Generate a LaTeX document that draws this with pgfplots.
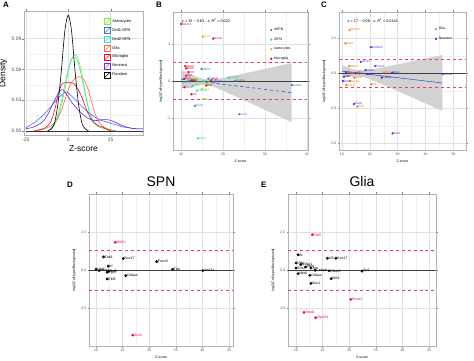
\documentclass[border=0pt]{standalone}
\usepackage{pgfplots}
\pgfplotsset{compat=1.18}
\usepackage{fontspec}
\setmainfont{Liberation Sans}
\definecolor{aAstro}{HTML}{80F030}
\definecolor{aDrdA}{HTML}{3A70E8}
\definecolor{aDrdB}{HTML}{40E0C8}
\definecolor{aGlia}{HTML}{FF6A40}
\definecolor{aMicro}{HTML}{E8102A}
\definecolor{aNeur}{HTML}{6A2BE8}
\definecolor{bD}{HTML}{3B6FD4}
\definecolor{bI}{HTML}{30D0B0}
\definecolor{bA}{HTML}{A8D020}
\definecolor{bM}{HTML}{D0103A}
\definecolor{cG}{HTML}{E8792A}
\definecolor{cN}{HTML}{4B2BD8}
\definecolor{hiRed}{HTML}{E0104A}
\definecolor{dashC}{HTML}{E8406A}
\definecolor{regC}{HTML}{2A4BD0}
\pgfplotsset{
  panel/.style={
    scale only axis, anchor=south west,
    axis line style={black!30},
    tick style={black!50, line width=0.3pt},
    tick align=outside, major tick length=1.5bp, minor tick length=0pt,
    grid=both, minor tick num=1,
    major grid style={black!12, line width=0.4pt},
    minor grid style={black!6, line width=0.3pt},
    ticklabel style={font=\fontsize{3.5}{4}\selectfont, text=black!70, inner sep=1bp},
    /pgf/number format/assume math mode=true,
    label style={font=\fontsize{3.5}{4}\selectfont},
  },
  lbl/.style={only marks, mark=*, mark size=0.9bp, color=#1,
    nodes near coords, point meta=explicit symbolic,
    nodes near coords style={anchor=west, font=\fontsize{3}{3}\selectfont, inner sep=0.7bp, text=#1}},
  lblD/.style={only marks, mark=*, mark size=1.2bp, color=#1,
    nodes near coords, point meta=explicit symbolic,
    nodes near coords style={anchor=west, font=\fontsize{3.6}{4}\selectfont, inner sep=1bp, text=#1}},
}
\begin{document}
\begin{tikzpicture}
\useasboundingbox (0,0) rectangle (474bp,361bp);
% ---------------- A ----------------
\begin{axis}[panel, at={(24bp,226bp)}, width=119bp, height=124bp,
  xmin=-26, xmax=44, ymin=-0.004, ymax=0.117,
  xtick={-25,0,25}, ytick={0,0.03,0.06,0.09},
  yticklabels={0.00,0.03,0.06,0.09},
  ticklabel style={font=\fontsize{5}{6}\selectfont},
  xlabel={Z-score}, ylabel={Density},
  label style={font=\fontsize{8.5}{9}\selectfont},
  legend style={at={(0.67,0.95)}, anchor=north west, draw=none, fill=none,
    font=\fontsize{4}{4.5}\selectfont, row sep=0.6bp, inner sep=0pt},
  legend cell align=left,
  legend image code/.code={\draw[#1, line width=0.5pt, sharp plot] (0bp,-3bp) rectangle (6bp,3bp); \draw[#1, line width=0.5pt, sharp plot] (0bp,-3bp) -- (6bp,3bp);},
  every axis plot/.append style={line width=0.6pt, smooth},
]
\addplot[aAstro] coordinates {(-12,0) (-10,0.002) (-8,0.006) (-6,0.013) (-4,0.025) (-2,0.040) (0,0.057) (2,0.070) (4,0.075) (6,0.070) (8,0.056) (10,0.038) (12,0.022) (14,0.011) (16,0.006) (18,0.004) (20,0.003) (22,0.002) (25,0.001) (28,0)};
\addlegendentry{Astrocytes}
\addplot[aDrdA] coordinates {(-25,0.003) (-20,0.008) (-15,0.015) (-10,0.024) (-6,0.032) (-3,0.036) (-1,0.038) (2,0.034) (5,0.029) (8,0.024) (12,0.018) (16,0.013) (20,0.010) (24,0.008) (28,0.006) (32,0.004) (36,0.003) (40,0.002) (44,0.002)};
\addlegendentry{Drd1-SPN}
\addplot[aDrdB] coordinates {(-12,0) (-10,0.003) (-8,0.008) (-6,0.016) (-4,0.029) (-2,0.045) (0,0.060) (2,0.070) (4,0.072) (6,0.066) (8,0.052) (10,0.036) (12,0.021) (14,0.012) (16,0.007) (18,0.004) (20,0.003) (23,0.001) (26,0)};
\addlegendentry{Drd2-SPN}
\addplot[aGlia] coordinates {(-18,0) (-14,0.002) (-10,0.005) (-8,0.008) (-6,0.013) (-4,0.020) (-2,0.030) (0,0.040) (2,0.047) (4,0.051) (6,0.053) (8,0.052) (10,0.048) (12,0.039) (14,0.027) (16,0.016) (18,0.009) (20,0.005) (22,0.003) (25,0.001) (28,0)};
\addlegendentry{Glia}
\addplot[aMicro] coordinates {(-20,0) (-15,0.002) (-12,0.005) (-10,0.010) (-8,0.020) (-6,0.035) (-4,0.045) (-2,0.047) (0,0.047) (2,0.047) (4,0.045) (6,0.040) (8,0.033) (10,0.024) (12,0.016) (14,0.010) (16,0.007) (18,0.005) (20,0.004) (22,0.002) (25,0)};
\addlegendentry{Microglia}
\addplot[aNeur] coordinates {(-25,0.002) (-20,0.004) (-15,0.009) (-12,0.016) (-8,0.030) (-5,0.039) (-3,0.040) (-1,0.036) (2,0.028) (5,0.022) (8,0.017) (12,0.012) (16,0.010) (20,0.011) (23,0.011) (27,0.009) (32,0.005) (36,0.003) (40,0.002) (44,0.002)};
\addlegendentry{Neurons}
\addplot[black] coordinates {(-12,0) (-10,0.002) (-8,0.008) (-6,0.027) (-4,0.059) (-2,0.097) (0,0.113) (2,0.097) (4,0.059) (6,0.027) (8,0.008) (10,0.002) (12,0)};
\addlegendentry{Random}
\addplot[black!80, sharp plot, forget plot] coordinates {(-25,0) (44,0)};
\end{axis}
% ---------------- B ----------------
\begin{axis}[panel, at={(173bp,211bp)}, width=135bp, height=138bp,
  xmin=8.1, xmax=40.3, ymin=-3.73, ymax=3.73,
  xtick={10,20,30,40}, ytick={-2,0,2},
  xlabel={Z-score}, ylabel={log2(Cell-type/Background)},
  legend style={at={(0.72,0.90)}, anchor=north west, draw=none, fill=none,
    font=\fontsize{3.5}{4}\selectfont, row sep=1.6bp, inner sep=0pt},
  legend cell align=left,
]
\addplot[fill=gray!35, draw=none, forget plot] coordinates {(10,0.592) (12,0.392) (14,0.206) (16,0.084) (18,0.095) (20,0.170) (24,0.355) (28,0.550) (32,0.750) (36.4,0.969) (36.4,-2.231) (32,-1.768) (28,-1.348) (24,-0.931) (20,-0.524) (18,-0.339) (16,-0.216) (14,-0.228) (12,-0.302) (10,-0.392)};
\addplot[dashC, dashed, line width=0.5pt, forget plot] coordinates {(8.1,1) (40.3,1)};
\addplot[dashC, dashed, line width=0.5pt, forget plot] coordinates {(8.1,-1) (40.3,-1)};
\addplot[black!75, line width=0.6pt, forget plot] coordinates {(8.1,0) (40.3,0)};
\addplot[regC, dashed, line width=0.6pt, forget plot] coordinates {(10,0.10) (36.4,-0.631)};
\addplot[lbl=bD] table[meta=lab] {
x y lab
14.9 0.65 Mef2c
36.4 -0.22 Arid3a
22.9 0.00 Cebpa
23.9 -1.80 Sox5
13.3 -1.35 Sox6
16.5 0.12 Foxo3
12.2 0.02 Zeb1
18.0 -0.05 Egr3
};
\addlegendentry{dSPN}
\addplot[lbl=bI] table[meta=lab] {
x y lab
21.4 0.18 Zfp423
14.1 -3.10 Sox4
13.8 -0.52 Pou3f1
12.8 -0.28 Sp9
10.6 -0.08 Sox2
15.5 -0.02 Rarb
};
\addlegendentry{iSPN}
\addplot[lbl=bA] table[meta=lab] {
x y lab
15.2 2.40 Sox9
15.3 -0.97 Nfia
13.8 -0.07 Nfib
14.9 -0.45 Pax6
16.2 -0.15 Rorb
13.0 0.10 Id3
};
\addlegendentry{Astrocytes}
\addplot[lbl=bM] table[meta=lab] {
x y lab
10.0 3.08 Nkx6-2
17.7 2.29 Runx1
11.0 0.80 Nfatc1
11.2 0.68 Mafb
11.8 0.48 Irf8
11.2 0.28 Spi1
10.8 0.12 Ikzf1
12.6 0.05 Fli1
10.8 -0.34 Cux1
12.5 -0.72 Irf5
16.0 -0.25 Maf
17.2 0.05 Egr2
};
\addlegendentry{Microglia}
\node[anchor=north west, font=\fontsize{3.8}{4}\selectfont] at (rel axis cs:0.04,0.975) {\textit{y} = 15 − 0.63 · \textit{x}, \textit{R}\textsuperscript{2} = 0.022};
\end{axis}
% ---------------- C ----------------
\begin{axis}[panel, at={(339bp,211bp)}, width=127bp, height=138bp,
  xmin=9, xmax=54.5, ymin=-5.48, ymax=4.38,
  xtick={10,20,30,40,50}, ytick={-5,-2.5,0,2.5},
  yticklabels={-5.0,-2.5,0.0,2.5},
  xlabel={Z-score}, ylabel={log2(Cell-type/Background)},
  legend style={at={(0.755,0.905)}, anchor=north west, draw=none, fill=none,
    font=\fontsize{3.5}{4}\selectfont, row sep=1.6bp, inner sep=0pt},
  legend cell align=left,
]
\addplot[fill=gray!35, draw=none, forget plot] coordinates {(10,0.595) (12,0.435) (14,0.297) (16,0.210) (18,0.204) (20,0.249) (25,0.430) (30,0.634) (35,0.843) (40,1.056) (46,1.311) (46,-2.689) (40,-2.154) (35,-1.709) (30,-1.266) (25,-0.830) (20,-0.415) (18,-0.276) (16,-0.190) (14,-0.183) (12,-0.229) (10,-0.295)};
\addplot[dashC, dashed, line width=0.5pt, forget plot] coordinates {(9,1) (54.5,1)};
\addplot[dashC, dashed, line width=0.5pt, forget plot] coordinates {(9,-1) (54.5,-1)};
\addplot[black!75, line width=0.6pt, forget plot] coordinates {(9,0) (54.5,0)};
\addplot[regC, line width=0.5pt, forget plot] coordinates {(10,0.15) (46,-0.689)};
\addplot[lbl=cG] table[meta=lab] {
x y lab
12.8 3.09 Zfp423
11.3 2.14 Sox8
12.6 0.52 Nfatc1
25.1 0.05 Egr1
20.6 -0.79 Irf5
11.6 -0.84 Sox17
15.6 -2.38 Ebf1
13.5 0.00 Runx1
14.5 -0.30 Mafb
13.0 -0.55 Tead1
16.0 0.10 Spi1
12.0 -0.20 Nfia
};
\addlegendentry{Glia}
\addplot[lbl=cN] table[meta=lab] {
x y lab
20.4 1.86 Bhlhe22
16.8 0.81 Sox11
22.0 0.52 Foxo3
18.5 0.24 Mef2c
28.1 0.04 Mxi1
46.1 -0.05 Arid3a
24.3 -0.31 Cebpa
10.4 -0.55 Zeb1
10.8 -0.24 Sp9
14.4 -2.19 Sox6
28.2 -4.29 Sox5
19.0 -0.05 Rarb
15.0 0.00 Egr3
11.5 0.05 Tbp
};
\addlegendentry{Neurons}
\node[anchor=north west, font=\fontsize{3.8}{4}\selectfont] at (rel axis cs:0.04,0.975) {\textit{y} = 17 − 0.08 · \textit{x}, \textit{R}\textsuperscript{2} = 0.0144};
\end{axis}
% ---------------- D ----------------
\begin{axis}[panel, at={(89bp,15bp)}, width=144bp, height=152bp,
  xmin=8.68, xmax=35.75, ymin=-5, ymax=5,
  xtick={10,15,20,25,30,35}, ytick={-2.5,0,2.5},
  yticklabels={-2.5,0.0,2.5},
  xlabel={Z-score}, ylabel={log2(Cell-type/Background)},
  title={SPN},
  title style={font=\fontsize{14}{14}\selectfont, at={(0.5,1)}, anchor=south, inner sep=0pt, yshift=1.5bp},
]
\addplot[dashC, dashed, line width=0.5pt] coordinates {(8.68,1.3) (35.75,1.3)};
\addplot[dashC, dashed, line width=0.5pt] coordinates {(8.68,-1.3) (35.75,-1.3)};
\addplot[black!75, line width=0.6pt] coordinates {(8.68,0) (35.75,0)};
\addplot[lblD=black] table[meta=lab] {
x y lab
11.4 0.86 Zeb1
15.1 0.75 Sox17
21.4 0.55 Foxo3
24.4 0.05 Tbp
30.05 -0.04 Arid3a
15.6 -0.37 Cebpa
12.1 -0.59 Ebf1
12.3 0.26 Irf
10.0 0.05 Litaf
10.6 -0.04 Nr3c1
12.1 -0.15 Egr3
12.4 -0.08 Bcl6
};
\addplot[lblD=hiRed] table[meta=lab] {
x y lab
13.6 1.82 Mef2c
16.9 -4.28 Sox5
};
\end{axis}
% ---------------- E ----------------
\begin{axis}[panel, at={(288bp,15bp)}, width=148bp, height=152bp,
  xmin=8.5, xmax=36.3, ymin=-5, ymax=5,
  xtick={10,15,20,25,30,35}, ytick={-2.5,0,2.5},
  yticklabels={-2.5,0.0,2.5},
  xlabel={Z-score}, ylabel={log2(Cell-type/Background)},
  title={Glia},
  title style={font=\fontsize{14}{14}\selectfont, at={(0.5,1)}, anchor=south, inner sep=0pt, yshift=1.5bp},
]
\addplot[dashC, dashed, line width=0.5pt] coordinates {(8.5,1.3) (36.3,1.3)};
\addplot[dashC, dashed, line width=0.5pt] coordinates {(8.5,-1.3) (36.3,-1.3)};
\addplot[black!75, line width=0.6pt] coordinates {(8.5,0) (36.3,0)};
\addplot[lblD=black] table[meta=lab] {
x y lab
10.4 1.00 Ar
15.9 0.77 Id3
17.5 0.77 Sox17
10.0 0.46 Nfib
10.0 0.13 Sox2
10.9 0.35 Nfatc1
11.8 0.20 Rbpj
12.8 0.13 Jun
13.6 -0.02 Cebpb
16.2 -0.05 Nfatc3
22.4 -0.07 Sp1
10.4 -0.24 Nkx6
12.6 -0.35 Cebpa
16.6 -0.57 Ebf1
12.8 -0.88 Sox1
};
\addplot[lblD=hiRed] table[meta=lab] {
x y lab
13.06 2.32 Ebf3
20.3 -1.93 Runx1
11.5 -2.79 Tead1
13.7 -3.14 Zfp423
};
\end{axis}
% panel letters
\node[anchor=north west, font=\bfseries\fontsize{8}{8}\selectfont, inner sep=0pt] at (3bp,359bp) {A};
\node[anchor=north west, font=\bfseries\fontsize{8}{8}\selectfont, inner sep=0pt] at (156bp,359bp) {B};
\node[anchor=north west, font=\bfseries\fontsize{8}{8}\selectfont, inner sep=0pt] at (321bp,359bp) {C};
\node[anchor=north west, font=\bfseries\fontsize{8}{8}\selectfont, inner sep=0pt] at (67bp,179bp) {D};
\node[anchor=north west, font=\bfseries\fontsize{8}{8}\selectfont, inner sep=0pt] at (261bp,179bp) {E};
\end{tikzpicture}
\end{document}
